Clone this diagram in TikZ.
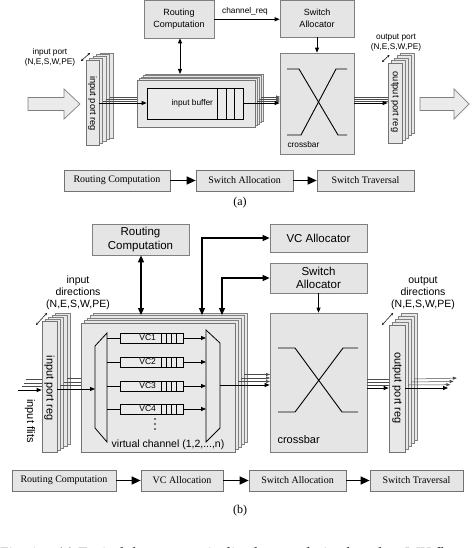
\documentclass[tikz,border=0pt]{standalone}
\usepackage{fontspec}
\setmainfont{Liberation Sans}
\newfontfamily\serif{Liberation Serif}
\usetikzlibrary{arrows.meta}
\newcommand\stacklayers[7]{%
  \foreach \i in {#7,...,1}{\draw[stk] ({#1+\i*#5},{#2-\i*#6}) rectangle ({#3+\i*#5},{#4-\i*#6});}}
\begin{document}
\begin{tikzpicture}[x=1pt,y=-1pt,
  box/.style={draw=black!50, fill=black!10, line width=0.7pt, inner sep=0pt, align=center},
  stk/.style={draw=black!50, fill=black!9, line width=0.5pt},
  frt/.style={draw=black!55, fill=black!9, line width=0.7pt, inner sep=0pt},
  pbox/.style={draw=black!55, fill=black!10, line width=0.7pt, inner sep=0pt, minimum height=21pt, font=\serif\fontsize{10}{12}\selectfont},
  ar/.style={-{Triangle[length=5pt,width=4pt]}, line width=0.8pt},
  dar/.style={{Triangle[length=5pt,width=4pt]}-{Triangle[length=5pt,width=4pt]}, line width=0.8pt},
  darb/.style={{Triangle[length=7pt,width=6pt]}-{Triangle[length=7pt,width=6pt]}, line width=1.3pt},
  bigar/.style={-{Triangle[length=9pt,width=8pt]}, line width=1.5pt},
  bus/.style={line width=0.5pt, draw=black!70},
  busar/.style={line width=0.5pt, draw=black!70, -{Triangle[length=4pt,width=3pt]}},
  sa/.style={{Stealth[length=2.5pt,width=2.2pt]}-{Stealth[length=2.5pt,width=2.2pt]}, line width=0.5pt},
  hollow/.style={draw=black!50, fill=black!8, line width=0.7pt},
  xline/.style={line width=0.9pt},
  fa/.style={font=\fontsize{8.3}{10}\selectfont},
  fb/.style={font=\fontsize{11}{12}\selectfont},
  fl/.style={font=\fontsize{10.5}{12}\selectfont, align=center}]
\useasboundingbox[fill=white] (0,0) rectangle (474,548);

% ================= (a) =================
\node[box, minimum width=70pt, minimum height=37.5pt, font=\fontsize{9}{11.5}\selectfont] (RCa) at (179,19.25) {Routing\\Computation};
\node[box, minimum width=74pt, minimum height=37pt, font=\fontsize{9}{11.5}\selectfont] (SAa) at (317,18.5) {Switch\\Allocator};
\draw[ar] (RCa.east) -- (RCa.east -| SAa.west);
\node[fa] (chreq) at (245,11) {channel\_req};

% input buffer stack
\stacklayers{137}{80}{255}{127}{2}{1.5}{4}
\node[frt, minimum width=118pt, minimum height=47pt] (bufA) at (196,103.5) {};
\node[draw=black, line width=0.8pt, fill=black!8, minimum width=96pt, minimum height=31pt, inner sep=0pt] (ibuf) at (195,103.5) {};
\foreach \x in {217,226,234} \draw[line width=0.8pt] (\x,88) -- (\x,119);
\node[fa, anchor=east] (ibufl) at (216.5,103.5) {input buffer};
\coordinate (bufTop) at (180,74);
\draw[dar] (RCa.south -| bufTop) -- (bufTop);

% input port reg (a)
\stacklayers{86}{60}{99}{145}{3.5}{1.75}{4}
\node[frt, minimum width=13pt, minimum height=85pt] (inregA) at (92.5,102.5) {};
\node[rotate=-90, font=\fontsize{9.3}{11}\selectfont] (inregAl) at (92.5,103.5) {input port reg};

% crossbar (a)
\node[box, minimum width=74pt, minimum height=101pt] (xbA) at (317,103.5) {};
\draw[xline] (287,69) -- (299,69) -- (338,135) -- (347,135);
\draw[xline] (347,69) -- (336,69) -- (301,135) -- (287,135);
\node[fa, anchor=west] (xbAl) at (284,145) {crossbar};
\draw[ar] (SAa.south) -- (SAa.south |- xbA.north);

% output port reg (a)
\stacklayers{388}{63}{402}{143}{3}{2.5}{4}
\node[frt, minimum width=14pt, minimum height=80pt] (outregA) at (395,103) {};
\node[rotate=-90, font=\fontsize{9.3}{11}\selectfont] (outregAl) at (395,102) {output port reg};

% labels (a)
\node[fa, align=center] (inlblA) at (50,57) {input port\\(N,E,S,W,PE)};
\node[fa, align=center] (outlblA) at (396,43) {output port\\(N,E,S,W,PE)};
\coordinate (saA1) at (81,61); \coordinate (saA2) at (90,53);
\draw[sa] (saA1) -- (saA2);
\coordinate (saA3) at (382,62); \coordinate (saA4) at (389.5,55);
\draw[sa] (saA3) -- (saA4);

% hollow arrows (a)
\draw[hollow] (28,97.5) -- (64,97.5) -- (64,89) -- (80,104) -- (64,119) -- (64,110.5) -- (28,110.5) -- cycle;
\draw[hollow] (420,97.5) -- (454,97.5) -- (454,89) -- (469,104) -- (454,119) -- (454,110.5) -- (420,110.5) -- cycle;

% connectors (a)
\foreach \i in {1,2,3} \draw[bus] ({99+3.5*\i},{103-2*\i}) -- (137,{103-2*\i});
\draw[ar] (inregA.east |- 0,103) -- (ibuf.west |- 0,103);
\foreach \i in {1,2,3} \draw[busar] ({255+2*\i},{103-2*\i}) -- (280,{103-2*\i});
\draw[ar] (ibuf.east |- 0,103) -- (xbA.west |- 0,103);
\foreach \i in {1,2,3} \draw[bus] (354,{103-2*\i}) -- (388,{103-2*\i});
\draw[ar] (xbA.east |- 0,103) -- (outregA.west |- 0,103);

% pipeline (a)
\node[pbox, minimum width=106pt] (pa1) at (117,180.5) {Routing Computation};
\node[pbox, minimum width=97pt] (pa2) at (244.5,180.5) {Switch Allocation};
\node[pbox, minimum width=97pt] (pa3) at (365.5,180.5) {Switch Traversal};
\draw[bigar] (pa1) -- (pa2);
\draw[bigar] (pa2) -- (pa3);
\node[font=\serif\fontsize{12}{14}\selectfont] (capa) at (240,203) {(a)};

% ================= (b) =================
\node[box, minimum width=97pt, minimum height=31pt, font=\fontsize{11.5}{13.5}\selectfont] (RCb) at (140.5,239.5) {Routing\\Computation};
\node[box, minimum width=97pt, minimum height=28pt, font=\fontsize{11.5}{13.5}\selectfont] (VCA) at (318.5,238) {VC Allocator};
\node[box, minimum width=97pt, minimum height=30pt, font=\fontsize{11.5}{13.5}\selectfont] (SAb) at (318.5,278) {Switch\\Allocator};

% VC block
\stacklayers{81}{323}{235}{452}{3}{2.5}{4}
\node[frt, minimum width=154pt, minimum height=129pt] (vcb) at (158,387.5) {};
\coordinate (vcTopA) at (141,315);
\coordinate (vcTopB) at (202,315);
\coordinate (vcTopC) at (222,315);
\draw[darb] (RCb.south -| vcTopA) -- (vcTopA);
\draw[darb] (vcTopB) -- (vcTopB |- VCA.west) -- (VCA.west);
\draw[darb] (vcTopC) -- (vcTopC |- SAb.west) -- (SAb.west);

% muxes
\draw[line width=0.8pt, fill=black!9] (95,346) -- (107,333) -- (107,442) -- (95,428) -- cycle;
\draw[line width=0.8pt, fill=black!9] (206,330) -- (220,343) -- (220,428) -- (206,442) -- cycle;
\foreach \k/\y in {1/338,2/362,3/386,4/409}{
  \draw[line width=0.8pt] (107,\y) -- (120,\y);
  \node[draw=black, line width=0.8pt, fill=black!8, minimum width=63pt, minimum height=10pt, inner sep=0pt] (vc\k) at (151.5,\y) {};
  \foreach \x in {161,166,171,176} \draw[line width=0.8pt] (\x,\y-5) -- (\x,\y+5);
  \node[font=\fontsize{8.5}{10}\selectfont, anchor=east] (vc\k l) at (159.5,\y) {VC\k};
  \draw[ar] (vc\k.east) -- (206,\y);
}
\foreach \yy in {419,424,429} \fill (155,\yy) circle (0.9pt);
\node[font=\fontsize{10.5}{12}\selectfont] (vcl) at (168,444.5) {virtual channel (1,2,...,n)};

% crossbar (b)
\node[box, minimum width=97pt, minimum height=139pt] (xbB) at (318.5,382.5) {};
\draw[xline] (278,348) -- (295,348) -- (342,412) -- (358,412);
\draw[xline] (358,348) -- (343,348) -- (295,412) -- (278,412);
\node[fb, anchor=west] (xbBl) at (274,440) {crossbar};
\draw[ar] (SAb.south) -- (SAb.south |- xbB.north);

% input port reg (b)
\stacklayers{42}{321}{57}{452}{3.25}{2}{4}
\node[frt, minimum width=15pt, minimum height=131pt] (inregB) at (49.5,386.5) {};
\node[rotate=-90, fb] (inregBl) at (49.5,388) {input port reg};
\node[rotate=-90, fb] (flits) at (30,421) {input flits};

% output port reg (b)
\stacklayers{389}{325}{405}{452}{3}{3}{4}
\node[frt, minimum width=16pt, minimum height=127pt] (outregB) at (397,388.5) {};
\node[rotate=-90, fb] (outregBl) at (397,388) {output port reg};

% labels (b)
\node[fl] (inlblB) at (78,293) {input\\directions\\(N,E,S,W,PE)};
\node[fl] (outlblB) at (423,293) {output\\directions\\(N,E,S,W,PE)};
\coordinate (saB1) at (36,325); \coordinate (saB2) at (47,313);
\draw[sa] (saB1) -- (saB2);
\coordinate (saB3) at (382,325); \coordinate (saB4) at (393,313);
\draw[sa] (saB3) -- (saB4);

% connectors (b)
\foreach \i in {1,2,3} \draw[bus] ({20+2*\i},{390-3.5*\i}) -- (42,{390-3.5*\i});
\coordinate (flitIn) at (18,390);
\draw[ar] (flitIn) -- (inregB.west |- flitIn);
\foreach \i in {1,2,3} \draw[bus] ({57+3.25*\i},{389-3.5*\i}) -- (81,{389-3.5*\i});
\draw[ar] (inregB.east |- 0,389) -- (95,389);
\foreach \i in {1,2,3} \draw[busar] ({235+3*\i},{385-3.5*\i}) -- (270,{385-3.5*\i});
\draw[ar] (220,385) -- (xbB.west |- 0,385);
\foreach \i in {1,2,3} \draw[bus] (367,{388-3*\i}) -- (389,{388-3*\i});
\draw[ar] (xbB.east |- 0,388) -- (outregB.west |- 0,388);
\foreach \i in {3,2,1} \draw[busar] ({405+3*\i},{388-3*\i}) -- ({447+3.3*\i},{388-3.3*\i});
\coordinate (flitOut) at (448,388);
\draw[ar] (outregB.east |- flitOut) -- (flitOut);

% pipeline (b)
\node[pbox, minimum width=104pt] (pb1) at (64,480.5) {Routing Computation};
\node[pbox, minimum width=82pt] (pb2) at (182,480.5) {VC Allocation};
\node[pbox, minimum width=97pt] (pb3) at (297.5,480.5) {Switch Allocation};
\node[pbox, minimum width=93pt] (pb4) at (416.5,480.5) {Switch Traversal};
\draw[bigar] (pb1) -- (pb2);
\draw[bigar] (pb2) -- (pb3);
\draw[bigar] (pb3) -- (pb4);
\node[font=\serif\fontsize{12}{14}\selectfont] (capb) at (240,511) {(b)};

% cut-off caption (cut by the lower edge, as in the reference)
\node[anchor=base west, inner sep=0pt, font=\serif\fontsize{15.5}{18}\selectfont] (fig) at (0,558.5) {Fig. 1.\quad (a) Typical three-stage pipelined router design based on WH flow control};
\end{tikzpicture}
\end{document}
